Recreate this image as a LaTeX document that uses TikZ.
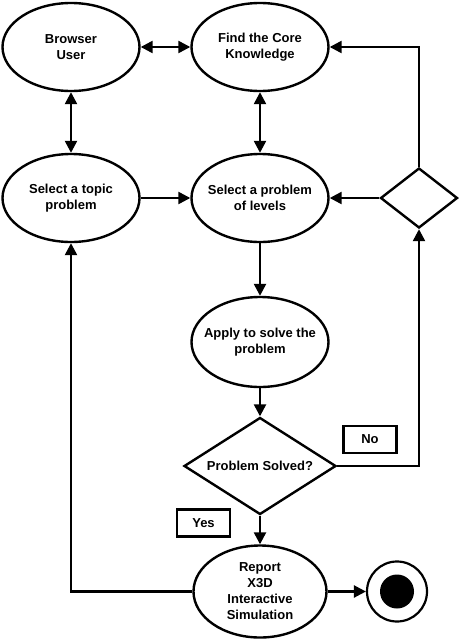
\documentclass[tikz,border=0pt]{standalone}
\usepackage{fontspec}
\setmainfont{Liberation Sans}
\usetikzlibrary{shapes.geometric,arrows.meta}
\begin{document}
\begin{tikzpicture}[x=1pt,y=-1pt,
  every node/.style={font=\fontsize{13}{16}\selectfont\bfseries, align=center, inner sep=0pt},
  ell/.style={draw, ellipse, line width=2.4pt, inner sep=-30pt, minimum width=137pt, minimum height=88pt},
  dia/.style={draw, diamond, line width=2.4pt, inner sep=-30pt},
  lbl/.style={draw, rectangle, line width=2.2pt, minimum width=53pt, minimum height=27pt},
  con/.style={line width=2.4pt, -{Triangle[length=12pt,width=12pt]}},
  bicon/.style={line width=2.4pt, {Triangle[length=12pt,width=12pt]}-{Triangle[length=12pt,width=12pt]}}]
\useasboundingbox (0,0) rectangle (461,640);
\fill[white] (0,0) rectangle (461,640);
\node[ell] (bu) at (71,47) {Browser\\User};
\node[ell] (fc) at (260,47) {Find the Core\\Knowledge};
\node[ell] (st) at (71,198) {Select a topic\\problem};
\node[ell] (sp) at (260,198) {Select a problem\\of levels};
\node[dia, minimum width=77pt, minimum height=60pt] (d1) at (419,198) {};
\node[ell, minimum height=90pt] (as) at (260,342) {Apply to solve the\\problem};
\node[dia, minimum width=152pt, minimum height=97pt] (ps) at (260,466) {Problem Solved?};
\node[lbl] (no) at (370,439.5) {No};
\node[lbl] (yes) at (203.5,523) {Yes};
\node[ell, minimum width=133pt, minimum height=92pt] (rp) at (260,591.5) {Report\\X3D\\Interactive\\Simulation};
\node[draw, circle, line width=2.2pt, minimum size=60pt] (end) at (397,591.5) {};
\fill (end.center) circle (17pt);
\coordinate (c1) at (419,47);
\coordinate (c2) at (419,466);
\coordinate (c3) at (71,591.5);
\draw[bicon] (bu) -- (fc);
\draw[bicon] (bu) -- (st);
\draw[bicon] (fc) -- (sp);
\draw[con] (st) -- (sp);
\draw[con] (d1.west) -- (sp);
\draw[con] (d1.north) -- (c1) -- (fc.east);
\draw[con] (sp) -- (as);
\draw[con] (as) -- (ps.north);
\draw[con] (ps.south) -- (rp);
\draw[con] (ps.east) -- (c2) -- (d1.south);
\draw[con] (rp.west) -- (c3) -- (st.south);
\draw[con] (rp.east) -- (end.west);
\end{tikzpicture}
\end{document}
